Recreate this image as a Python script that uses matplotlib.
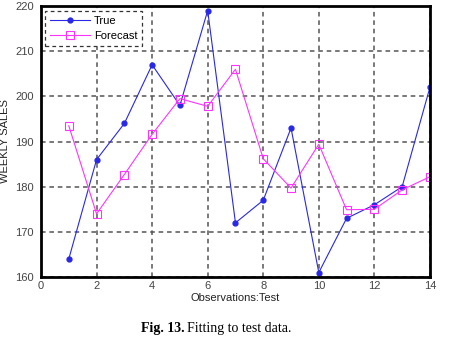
import numpy as np
import matplotlib.pyplot as plt

plt.rcParams['font.family'] = ['Liberation Sans', 'DejaVu Sans']

# datos
obs = np.arange(1, 15)
true_sales = [164, 186, 194, 207, 198, 219, 172, 177, 193, 161, 173, 176, 180, 202]
forecast = [193.5, 174, 182.7, 191.6, 199.5, 197.8, 206, 186.2, 179.7, 189.4, 174.9, 175, 179.3, 182.2]

fig = plt.figure(figsize=(4.74, 3.57), dpi=100)
ax = fig.add_axes([0.0865, 0.224, 0.8205, 0.759])

ax.plot(obs, true_sales, color='#2828e6', lw=0.8, marker='o', ms=3.5,
        label='True')
ax.plot(obs, forecast, color='#ff33ff', lw=0.8, marker='s', ms=6,
        mfc='none', mew=0.8, label='Forecast')

ax.set_xlim(0, 14)
ax.set_ylim(160, 220)
ax.set_xticks(np.arange(0, 15, 2))
ax.set_yticks(np.arange(160, 221, 10))
ax.grid(True, ls=(0, (3, 2.5)), color='#555555', lw=1.1)
for s in ax.spines.values():
    s.set_linewidth(2)
ax.tick_params(direction='in', length=0, labelsize=8, colors='#444444', pad=5)
ax.tick_params(axis='x', pad=3)

ax.set_xlabel('Observations:Test', fontsize=8, labelpad=1, color='#222222')
ax.set_ylabel('WEEKLY SALES', fontsize=8, color='#222222')
ax.yaxis.set_label_coords(-0.079, 0.5)

leg = ax.legend(loc='upper left', fontsize=8, fancybox=False,
                borderaxespad=0.4, handlelength=3.6, framealpha=1,
                labelspacing=0.45, borderpad=0.45, handletextpad=0.3)
leg.get_frame().set_edgecolor('#333333')
leg.get_frame().set_linestyle((0, (3, 2.5)))
leg.get_frame().set_linewidth(0.9)

fig.text(0.297, 0.081, 'Fig. 13.', fontsize=10, fontweight='bold',
         family='Liberation Serif', va='center')
fig.text(0.395, 0.081, 'Fitting to test data.', fontsize=10,
         family='Liberation Serif', va='center')

plt.savefig('out.png', dpi=100)
